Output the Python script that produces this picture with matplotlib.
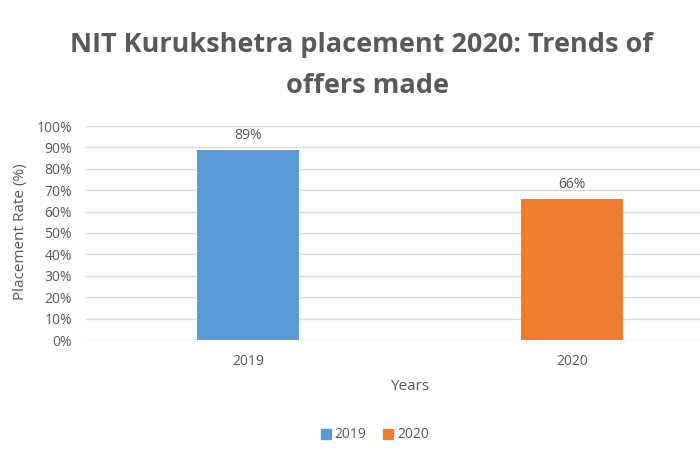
import matplotlib.pyplot as plt
from matplotlib.patches import Patch

years = ["2019", "2020"]
placement_rate = [89, 66]
bar_colors = ["#5B9BD5", "#ED7D31"]
y_ticks = list(range(0, 101, 10))

text_color = "#595959"
plt.rcParams["font.family"] = ["Open Sans", "DejaVu Sans"]

fig = plt.figure(figsize=(7, 4.5), dpi=100)
ax = fig.add_axes([86 / 700, 110 / 450, 614 / 700, 214 / 450])

positions = list(range(len(years)))
bars = ax.bar(positions, placement_rate, width=0.315, color=bar_colors, zorder=3)

for pos, value in zip(positions, placement_rate):
    ax.text(pos, value + 3, f"{value}%", ha="center", va="bottom",
            fontsize=10, color=text_color)

ax.set_xlim(-0.5, 1.395)
ax.set_ylim(0, 100)
ax.set_yticks(y_ticks)
ax.set_yticklabels([f"{t}%" for t in y_ticks])
ax.set_xticks(positions)
ax.set_xticklabels(years)
ax.tick_params(axis="both", length=0, labelsize=10, colors=text_color)
ax.tick_params(axis="x", pad=10)
ax.tick_params(axis="y", pad=10)

ax.grid(axis="y", color="#D9D9D9", linewidth=1, zorder=0)
for spine in ax.spines.values():
    spine.set_visible(False)

fig.text(21 / 700, 1 - 232 / 450, "Placement Rate (%)", rotation=90, ha="center",
         va="center", fontsize=11, color=text_color)
fig.text(410 / 700, 1 - 386 / 450, "Years", ha="center", va="center",
         fontsize=11, color=text_color)

fig.text(361 / 700, 1 - 45 / 450, "NIT Kurukshetra placement 2020: Trends of",
         ha="center", va="center", fontsize=19.5, fontweight="bold", color=text_color)
fig.text(368 / 700, 1 - 86 / 450, "offers made",
         ha="center", va="center", fontsize=19.5, fontweight="bold", color=text_color)

handles = [Patch(color=c, label=y) for c, y in zip(bar_colors, years)]
fig.legend(handles=handles, loc="center", bbox_to_anchor=(375 / 700, 1 - 435 / 450),
           ncol=2, frameon=False, fontsize=10, handlelength=0.7, handleheight=0.7,
           handletextpad=0.3, columnspacing=1.2, labelcolor=text_color)

fig.savefig("out.png", dpi=100)
